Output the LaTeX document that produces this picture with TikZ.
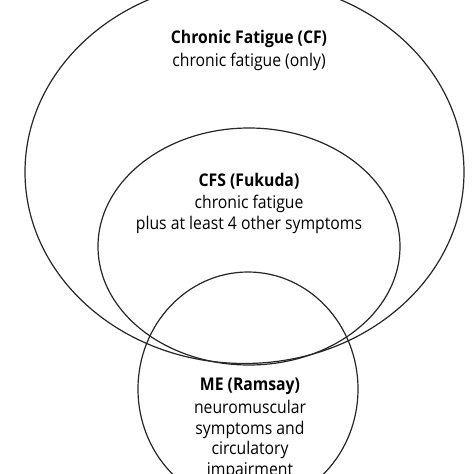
\documentclass[tikz,border=0pt]{standalone}
\usepackage{fontspec}
\setmainfont[FakeStretch=0.9]{Open Sans}
\usepackage{tikz}

\begin{document}
\begin{tikzpicture}[x=1pt,y=-1pt,
  ring/.style={draw=black!85, line width=1.2pt},
  lbl/.style={align=center, inner sep=0pt, anchor=base, font=\fontsize{17.5}{20.5}\selectfont}]

\useasboundingbox (0,0) rectangle (474,474);
\clip (0,0) rectangle (474,474);

\draw[ring] (244.5,172) ellipse (219.5pt and 191.5pt);
\draw[ring] (249,246.5) ellipse (151pt and 118.5pt);
\draw[ring] (248,389) ellipse (110pt and 117pt);

% anchors sit on the baseline of the last line
\node[lbl] (cf) at (249,66) {\textbf{Chronic Fatigue (CF)}\\[2.5pt]chronic fatigue (only)};
\node[lbl] (cfs) at (249,229) {\textbf{CFS (Fukuda)}\\[1.5pt]chronic fatigue\\plus at least 4 other symptoms};
\node[lbl] (me) at (250,475) {\textbf{ME (Ramsay)}\\[3pt]neuromuscular\\symptoms and\\circulatory\\impairment};

\end{tikzpicture}
\end{document}
